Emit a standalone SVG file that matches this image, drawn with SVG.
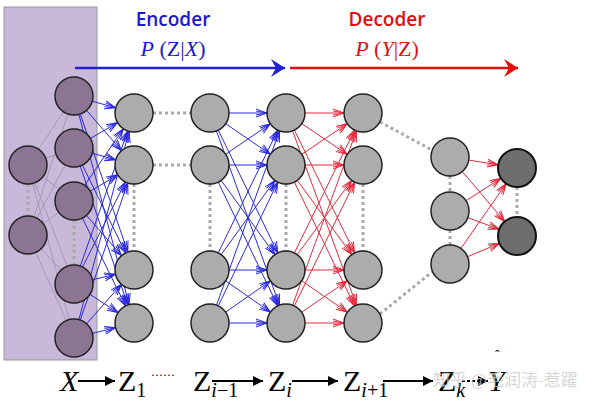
<svg xmlns="http://www.w3.org/2000/svg" width="600" height="408" viewBox="0 0 600 408">
<style>
.n circle{stroke:#222;stroke-width:1.5}
.p{fill:#8c7592;stroke:#4a3d4e}
.g{fill:#acacac}
.o{fill:#6e6e6e;stroke:#111!important;stroke-width:2!important}
.dot{stroke:#aaa;stroke-width:3;stroke-dasharray:3 3;fill:none}
.b path{stroke:#2a2ae0;stroke-width:1;fill:none;marker-end:url(#ab)}
.r path{stroke:#e8283a;stroke-width:1;fill:none;marker-end:url(#ar)}
.lab{font-family:"Liberation Serif",serif;font-size:30px;fill:#000}
</style>
<defs>
<marker id="ab" markerUnits="userSpaceOnUse" viewBox="-31 -6 32 12" markerWidth="32" markerHeight="12" refX="0" refY="0" orient="auto"><path d="M-30,-4L-19,0L-30,4M-30,-2L-19,0L-30,2" fill="none" stroke="#2a2ae0" stroke-width="1"/></marker>
<marker id="ar" markerUnits="userSpaceOnUse" viewBox="-31 -6 32 12" markerWidth="32" markerHeight="12" refX="0" refY="0" orient="auto"><path d="M-30,-4L-19,0L-30,4M-30,-2L-19,0L-30,2" fill="none" stroke="#e8283a" stroke-width="1"/></marker>
<marker id="bh" markerUnits="userSpaceOnUse" viewBox="-15 -10 16 20" markerWidth="16" markerHeight="20" refX="0" refY="0" orient="auto"><path d="M-14,-9L0,0L-14,9L-9,0Z" fill="#2020d8"/></marker>
<marker id="rh" markerUnits="userSpaceOnUse" viewBox="-15 -10 16 20" markerWidth="16" markerHeight="20" refX="0" refY="0" orient="auto"><path d="M-14,-9L0,0L-14,9L-9,0Z" fill="#e01010"/></marker>
<marker id="kh" markerUnits="userSpaceOnUse" viewBox="-11 -6 12 12" markerWidth="12" markerHeight="12" refX="0" refY="0" orient="auto"><path d="M-10,-5L0,0L-10,5Z" fill="#000"/></marker>
</defs>
<rect x="4" y="7" width="93" height="353" fill="#c9b8da" stroke="#999"/>
<g id="connectors">
<g stroke="#a08fb0" stroke-width="0.8" fill="none">
<path d="M28,165L74,96M28,165L74,148M28,165L74,201M28,165L74,284M28,165L74,338M28,235L74,96M28,235L74,148M28,235L74,201M28,235L74,284M28,235L74,338"/>
</g>
<path class="dot" d="M28,184V216M74,220V265M153,113H191M153,165H191M134,184V251M210,184V251M286,184V251M363,184V251M380,122L432,150M380,314L432,272M450,176V192M450,230V245M517,187V217"/>
<path d="M75,68H285" stroke="#2020d8" stroke-width="2.5" marker-end="url(#bh)"/>
<path d="M290,68H518" stroke="#e01010" stroke-width="2.5" marker-end="url(#rh)"/>
<g class="b">
<path d="M74,96L134,113"/><path d="M74,96L134,165"/><path d="M74,96L134,270"/><path d="M74,96L134,323"/>
<path d="M74,148L134,113"/><path d="M74,148L134,165"/><path d="M74,148L134,270"/><path d="M74,148L134,323"/>
<path d="M74,201L134,113"/><path d="M74,201L134,165"/><path d="M74,201L134,270"/><path d="M74,201L134,323"/>
<path d="M74,284L134,113"/><path d="M74,284L134,165"/><path d="M74,284L134,270"/><path d="M74,284L134,323"/>
<path d="M74,338L134,113"/><path d="M74,338L134,165"/><path d="M74,338L134,270"/><path d="M74,338L134,323"/>
<path d="M210,113L286,113"/><path d="M210,113L286,165"/><path d="M210,113L286,270"/><path d="M210,113L286,323"/>
<path d="M210,165L286,113"/><path d="M210,165L286,165"/><path d="M210,165L286,270"/><path d="M210,165L286,323"/>
<path d="M210,270L286,113"/><path d="M210,270L286,165"/><path d="M210,270L286,270"/><path d="M210,270L286,323"/>
<path d="M210,323L286,113"/><path d="M210,323L286,165"/><path d="M210,323L286,270"/><path d="M210,323L286,323"/>
</g>
<g class="r">
<path d="M286,113L363,113"/><path d="M286,113L363,165"/><path d="M286,113L363,270"/><path d="M286,113L363,323"/>
<path d="M286,165L363,113"/><path d="M286,165L363,165"/><path d="M286,165L363,270"/><path d="M286,165L363,323"/>
<path d="M286,270L363,113"/><path d="M286,270L363,165"/><path d="M286,270L363,270"/><path d="M286,270L363,323"/>
<path d="M286,323L363,113"/><path d="M286,323L363,165"/><path d="M286,323L363,270"/><path d="M286,323L363,323"/>
<path d="M450,157L517,168"/><path d="M450,157L517,236"/><path d="M450,211L517,168"/><path d="M450,211L517,236"/><path d="M450,264L517,168"/><path d="M450,264L517,236"/>
</g>
</g>
<g id="in1" class="n"><circle class="p" cx="28" cy="165" r="19"/></g>
<g id="in2" class="n"><circle class="p" cx="28" cy="235" r="19"/></g>
<g id="h1" class="n"><circle class="p" cx="74" cy="96" r="19"/><circle class="p" cx="74" cy="148" r="19"/><circle class="p" cx="74" cy="201" r="19"/><circle class="p" cx="74" cy="284" r="19"/><circle class="p" cx="74" cy="338" r="19"/></g>
<g id="z1" class="n"><circle class="g" cx="134" cy="113" r="19"/><circle class="g" cx="134" cy="165" r="19"/><circle class="g" cx="134" cy="270" r="19"/><circle class="g" cx="134" cy="323" r="19"/></g>
<g id="zim1" class="n"><circle class="g" cx="210" cy="113" r="19"/><circle class="g" cx="210" cy="165" r="19"/><circle class="g" cx="210" cy="270" r="19"/><circle class="g" cx="210" cy="323" r="19"/></g>
<g id="zi" class="n"><circle class="g" cx="286" cy="113" r="19"/><circle class="g" cx="286" cy="165" r="19"/><circle class="g" cx="286" cy="270" r="19"/><circle class="g" cx="286" cy="323" r="19"/></g>
<g id="zip1" class="n"><circle class="g" cx="363" cy="113" r="19"/><circle class="g" cx="363" cy="165" r="19"/><circle class="g" cx="363" cy="270" r="19"/><circle class="g" cx="363" cy="323" r="19"/></g>
<g id="zk" class="n"><circle class="g" cx="450" cy="157" r="19"/><circle class="g" cx="450" cy="211" r="19"/><circle class="g" cx="450" cy="264" r="19"/></g>
<g id="out" class="n"><circle class="o" cx="517" cy="168" r="19"/><circle class="o" cx="517" cy="236" r="19"/></g>
<g id="titles">
<text x="173" y="26" text-anchor="middle" font-family="'Open Sans',sans-serif" font-size="19" font-weight="600" fill="#1a1ad0">Encoder</text>
<text x="173" y="56" text-anchor="middle" font-family="'Liberation Serif',serif" font-size="22" fill="#1a1ad0"><tspan font-style="italic">P</tspan> (Z|<tspan font-style="italic">X</tspan>)</text>
<text x="387" y="26" text-anchor="middle" font-family="'Open Sans',sans-serif" font-size="19" font-weight="600" fill="#e01010">Decoder</text>
<text x="387" y="56" text-anchor="middle" font-family="'Liberation Serif',serif" font-size="22" fill="#e01010"><tspan font-style="italic">P</tspan> (<tspan font-style="italic">Y</tspan>|Z)</text>
</g>
<g id="chain">
<g stroke="#000" stroke-width="2" marker-end="url(#kh)"><path d="M78,381H115"/><path d="M212,381H263"/><path d="M292,381H338"/><path d="M383,381H433"/></g>
<path d="M462,381H488" stroke="#000" stroke-width="2" stroke-dasharray="3 2" marker-end="url(#kh)"/>
<text class="lab" x="60" y="391" font-style="italic">X</text>
<text class="lab" x="118" y="391">Z<tspan font-size="20" dy="6">1</tspan></text>
<text x="151" y="379" font-family="'Liberation Serif',serif" font-size="12">······</text>
<text class="lab" x="193" y="391">Z<tspan font-size="20" dy="6" font-style="italic">i</tspan><tspan font-size="20">−1</tspan></text>
<text class="lab" x="268" y="391">Z<tspan font-size="20" dy="6" font-style="italic">i</tspan></text>
<text class="lab" x="343" y="391">Z<tspan font-size="20" dy="6" font-style="italic">i</tspan><tspan font-size="20">+1</tspan></text>
<text class="lab" x="438" y="391">Z<tspan font-size="20" dy="6" font-style="italic">k</tspan></text>
<text class="lab" x="488" y="391" font-style="italic">Y</text>
<text x="495" y="360" font-family="'Liberation Serif',serif" font-size="14">ˆ</text>
<text x="433" y="386" font-family="'Noto Sans CJK SC',sans-serif" font-size="17" fill="#ccc" fill-opacity="0.8">知乎 @毛润涛-惹躍</text>
</g>
</svg>
